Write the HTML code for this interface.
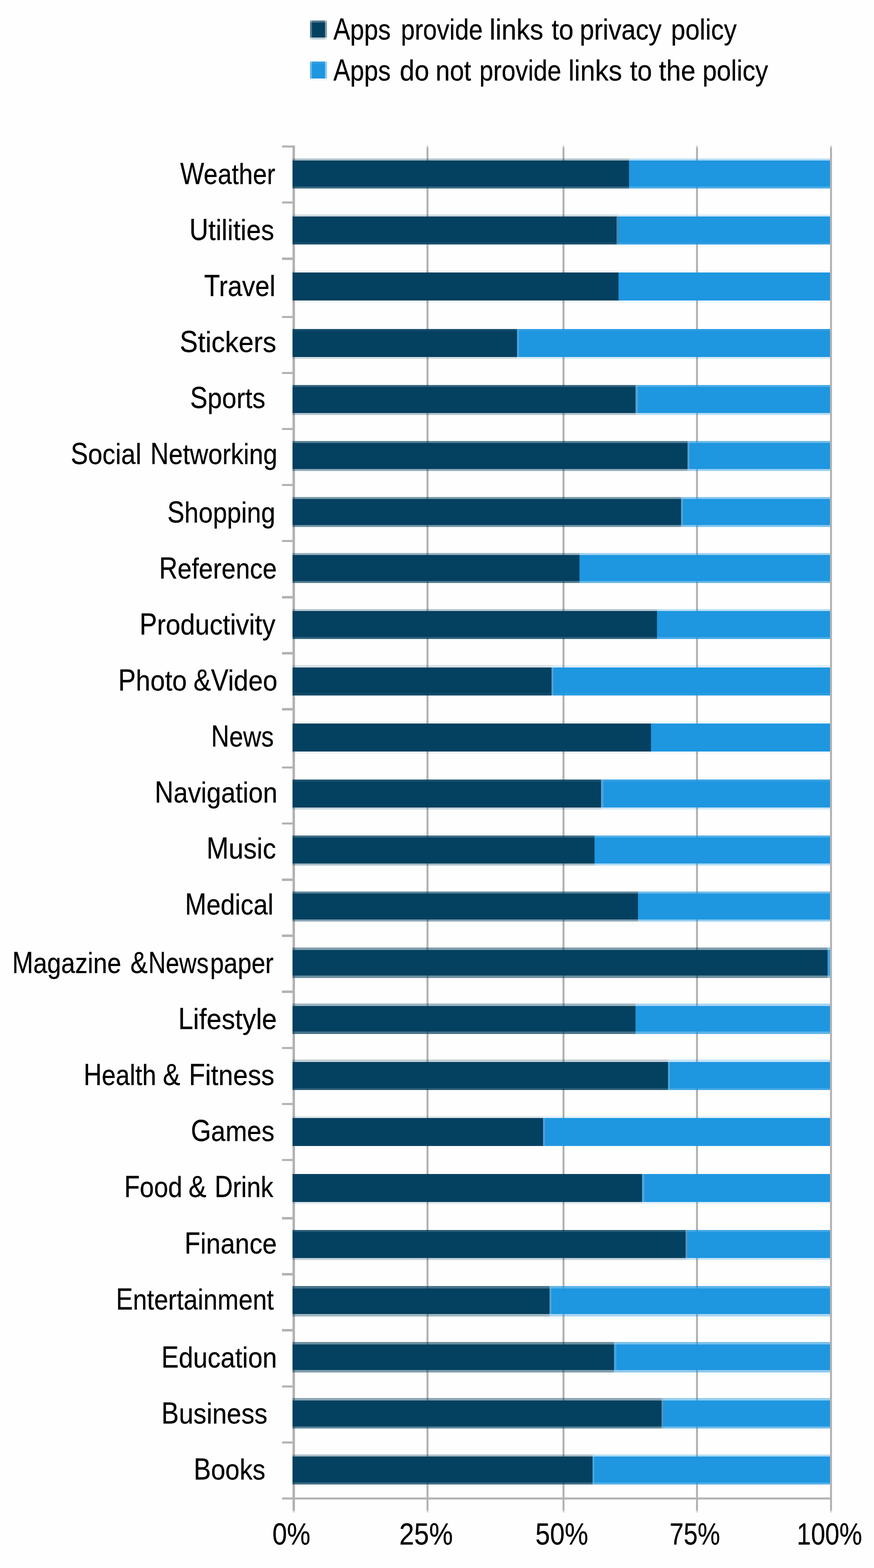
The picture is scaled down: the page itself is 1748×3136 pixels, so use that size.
<!DOCTYPE html>
<html lang="en">
<head>
<meta charset="utf-8">
<title>Apps providing links to privacy policy, by category</title>
<style>
html,body{margin:0;padding:0;background:#fefefe;}
body{width:1748px;height:3136px;overflow:hidden;}
svg{display:block;}
text{font-family:"Liberation Sans",Arial,Helvetica,sans-serif;font-size:60.5px;fill:#000000;stroke:#000000;stroke-width:0.3px;white-space:pre;}
tspan.c{font-size:61.5px;}
tspan.l{font-size:57.0px;}
</style>
</head>
<body>
<svg width="1748" height="3136" viewBox="0 0 1748 3136">
<rect x="0" y="0" width="1748" height="3136" fill="#fefefe"/>
<g id="grid">
<rect x="585" y="291" width="5" height="2730" fill="#b3b3b3"/>
<rect x="585" y="3021" width="5" height="4" fill="#d9d9d9"/>
<rect x="853" y="291" width="4" height="4" fill="#d9d9d9"/>
<rect x="853" y="295" width="4" height="2726" fill="#b3b3b3"/>
<rect x="853" y="3021" width="4" height="4" fill="#d9d9d9"/>
<rect x="1125" y="291" width="4" height="4" fill="#d9d9d9"/>
<rect x="1125" y="295" width="4" height="2726" fill="#b3b3b3"/>
<rect x="1125" y="3021" width="4" height="4" fill="#d9d9d9"/>
<rect x="1392" y="291" width="4" height="4" fill="#d9d9d9"/>
<rect x="1392" y="295" width="4" height="2726" fill="#b3b3b3"/>
<rect x="1392" y="3021" width="4" height="4" fill="#d9d9d9"/>
<rect x="1660" y="291" width="4" height="4" fill="#d9d9d9"/>
<rect x="1660" y="295" width="4" height="2726" fill="#b3b3b3"/>
<rect x="1660" y="3021" width="4" height="4" fill="#d9d9d9"/>
<rect x="564" y="2995" width="1100" height="4" fill="#b3b3b3"/>
<rect x="564" y="291" width="21" height="4" fill="#b3b3b3"/>
<rect x="564" y="403" width="21" height="4" fill="#b3b3b3"/>
<rect x="564" y="515" width="21" height="5" fill="#b3b3b3"/>
<rect x="564" y="632" width="21" height="4" fill="#b3b3b3"/>
<rect x="564" y="744" width="21" height="4" fill="#b3b3b3"/>
<rect x="564" y="856" width="21" height="4" fill="#b3b3b3"/>
<rect x="564" y="968" width="21" height="4" fill="#b3b3b3"/>
<rect x="564" y="1080" width="21" height="4" fill="#b3b3b3"/>
<rect x="564" y="1192" width="21" height="5" fill="#b3b3b3"/>
<rect x="564" y="1304" width="21" height="5" fill="#b3b3b3"/>
<rect x="564" y="1416" width="21" height="5" fill="#b3b3b3"/>
<rect x="564" y="1533" width="21" height="4" fill="#b3b3b3"/>
<rect x="564" y="1645" width="21" height="4" fill="#b3b3b3"/>
<rect x="564" y="1757" width="21" height="5" fill="#b3b3b3"/>
<rect x="564" y="1869" width="21" height="5" fill="#b3b3b3"/>
<rect x="564" y="1981" width="21" height="5" fill="#b3b3b3"/>
<rect x="564" y="2094" width="21" height="4" fill="#b3b3b3"/>
<rect x="564" y="2206" width="21" height="4" fill="#b3b3b3"/>
<rect x="564" y="2318" width="21" height="4" fill="#b3b3b3"/>
<rect x="564" y="2434" width="21" height="5" fill="#b3b3b3"/>
<rect x="564" y="2546" width="21" height="5" fill="#b3b3b3"/>
<rect x="564" y="2658" width="21" height="5" fill="#b3b3b3"/>
<rect x="564" y="2771" width="21" height="4" fill="#b3b3b3"/>
<rect x="564" y="2883" width="21" height="4" fill="#b3b3b3"/>
</g>
<g id="bars">
<rect x="585" y="317" width="673" height="4" fill="#04405f" fill-opacity="0.320"/>
<rect x="585" y="321" width="673" height="52" fill="#04405f"/>
<rect x="585" y="373" width="673" height="4" fill="#04405f" fill-opacity="0.780"/>
<rect x="1258" y="317" width="402" height="4" fill="#1e96e0" fill-opacity="0.320"/>
<rect x="1258" y="321" width="402" height="52" fill="#1e96e0"/>
<rect x="1258" y="373" width="402" height="4" fill="#1e96e0" fill-opacity="0.780"/>
<rect x="585" y="429" width="648" height="4" fill="#04405f" fill-opacity="0.190"/>
<rect x="585" y="433" width="648" height="52" fill="#04405f"/>
<rect x="585" y="485" width="648" height="4" fill="#04405f" fill-opacity="0.910"/>
<rect x="1233" y="429" width="4" height="4" fill="#04405f" fill-opacity="0.128"/>
<rect x="1233" y="433" width="4" height="52" fill="#04405f" fill-opacity="0.671"/>
<rect x="1233" y="485" width="4" height="4" fill="#04405f" fill-opacity="0.611"/>
<rect x="1233" y="429" width="4" height="4" fill="#1e96e0" fill-opacity="0.063"/>
<rect x="1233" y="433" width="4" height="52" fill="#1e96e0" fill-opacity="0.329"/>
<rect x="1233" y="485" width="4" height="4" fill="#1e96e0" fill-opacity="0.299"/>
<rect x="1237" y="429" width="423" height="4" fill="#1e96e0" fill-opacity="0.190"/>
<rect x="1237" y="433" width="423" height="52" fill="#1e96e0"/>
<rect x="1237" y="485" width="423" height="4" fill="#1e96e0" fill-opacity="0.910"/>
<rect x="585" y="541" width="652" height="4" fill="#04405f" fill-opacity="0.061"/>
<rect x="585" y="545" width="652" height="56" fill="#04405f"/>
<rect x="585" y="601" width="652" height="5" fill="#04405f" fill-opacity="0.039"/>
<rect x="1237" y="541" width="423" height="4" fill="#1e96e0" fill-opacity="0.061"/>
<rect x="1237" y="545" width="423" height="56" fill="#1e96e0"/>
<rect x="1237" y="601" width="423" height="5" fill="#1e96e0" fill-opacity="0.039"/>
<rect x="585" y="658" width="449" height="4" fill="#04405f" fill-opacity="0.931"/>
<rect x="585" y="662" width="449" height="52" fill="#04405f"/>
<rect x="585" y="714" width="449" height="4" fill="#04405f" fill-opacity="0.169"/>
<rect x="1034" y="658" width="4" height="4" fill="#04405f" fill-opacity="0.221"/>
<rect x="1034" y="662" width="4" height="52" fill="#04405f" fill-opacity="0.238"/>
<rect x="1034" y="714" width="4" height="4" fill="#04405f" fill-opacity="0.040"/>
<rect x="1034" y="658" width="4" height="4" fill="#1e96e0" fill-opacity="0.710"/>
<rect x="1034" y="662" width="4" height="52" fill="#1e96e0" fill-opacity="0.762"/>
<rect x="1034" y="714" width="4" height="4" fill="#1e96e0" fill-opacity="0.129"/>
<rect x="1038" y="658" width="622" height="4" fill="#1e96e0" fill-opacity="0.931"/>
<rect x="1038" y="662" width="622" height="52" fill="#1e96e0"/>
<rect x="1038" y="714" width="622" height="4" fill="#1e96e0" fill-opacity="0.169"/>
<rect x="585" y="770" width="686" height="4" fill="#04405f" fill-opacity="0.802"/>
<rect x="585" y="774" width="686" height="52" fill="#04405f"/>
<rect x="585" y="826" width="686" height="4" fill="#04405f" fill-opacity="0.298"/>
<rect x="1271" y="770" width="5" height="4" fill="#04405f" fill-opacity="0.311"/>
<rect x="1271" y="774" width="5" height="52" fill="#04405f" fill-opacity="0.388"/>
<rect x="1271" y="826" width="5" height="4" fill="#04405f" fill-opacity="0.116"/>
<rect x="1271" y="770" width="5" height="4" fill="#1e96e0" fill-opacity="0.491"/>
<rect x="1271" y="774" width="5" height="52" fill="#1e96e0" fill-opacity="0.612"/>
<rect x="1271" y="826" width="5" height="4" fill="#1e96e0" fill-opacity="0.183"/>
<rect x="1276" y="770" width="384" height="4" fill="#1e96e0" fill-opacity="0.802"/>
<rect x="1276" y="774" width="384" height="52" fill="#1e96e0"/>
<rect x="1276" y="826" width="384" height="4" fill="#1e96e0" fill-opacity="0.298"/>
<rect x="585" y="882" width="790" height="4" fill="#04405f" fill-opacity="0.672"/>
<rect x="585" y="886" width="790" height="52" fill="#04405f"/>
<rect x="585" y="938" width="790" height="4" fill="#04405f" fill-opacity="0.428"/>
<rect x="1375" y="882" width="4" height="4" fill="#04405f" fill-opacity="0.225"/>
<rect x="1375" y="886" width="4" height="52" fill="#04405f" fill-opacity="0.335"/>
<rect x="1375" y="938" width="4" height="4" fill="#04405f" fill-opacity="0.143"/>
<rect x="1375" y="882" width="4" height="4" fill="#1e96e0" fill-opacity="0.447"/>
<rect x="1375" y="886" width="4" height="52" fill="#1e96e0" fill-opacity="0.665"/>
<rect x="1375" y="938" width="4" height="4" fill="#1e96e0" fill-opacity="0.285"/>
<rect x="1379" y="882" width="281" height="4" fill="#1e96e0" fill-opacity="0.672"/>
<rect x="1379" y="886" width="281" height="52" fill="#1e96e0"/>
<rect x="1379" y="938" width="281" height="4" fill="#1e96e0" fill-opacity="0.428"/>
<rect x="585" y="994" width="777" height="4" fill="#04405f" fill-opacity="0.542"/>
<rect x="585" y="998" width="777" height="52" fill="#04405f"/>
<rect x="585" y="1050" width="777" height="4" fill="#04405f" fill-opacity="0.558"/>
<rect x="1362" y="994" width="4" height="4" fill="#04405f" fill-opacity="0.224"/>
<rect x="1362" y="998" width="4" height="52" fill="#04405f" fill-opacity="0.414"/>
<rect x="1362" y="1050" width="4" height="4" fill="#04405f" fill-opacity="0.231"/>
<rect x="1362" y="994" width="4" height="4" fill="#1e96e0" fill-opacity="0.318"/>
<rect x="1362" y="998" width="4" height="52" fill="#1e96e0" fill-opacity="0.586"/>
<rect x="1362" y="1050" width="4" height="4" fill="#1e96e0" fill-opacity="0.327"/>
<rect x="1366" y="994" width="294" height="4" fill="#1e96e0" fill-opacity="0.542"/>
<rect x="1366" y="998" width="294" height="52" fill="#1e96e0"/>
<rect x="1366" y="1050" width="294" height="4" fill="#1e96e0" fill-opacity="0.558"/>
<rect x="585" y="1106" width="574" height="4" fill="#04405f" fill-opacity="0.413"/>
<rect x="585" y="1110" width="574" height="52" fill="#04405f"/>
<rect x="585" y="1162" width="574" height="4" fill="#04405f" fill-opacity="0.687"/>
<rect x="1159" y="1106" width="501" height="4" fill="#1e96e0" fill-opacity="0.413"/>
<rect x="1159" y="1110" width="501" height="52" fill="#1e96e0"/>
<rect x="1159" y="1162" width="501" height="4" fill="#1e96e0" fill-opacity="0.687"/>
<rect x="585" y="1218" width="729" height="4" fill="#04405f" fill-opacity="0.283"/>
<rect x="585" y="1222" width="729" height="52" fill="#04405f"/>
<rect x="585" y="1274" width="729" height="4" fill="#04405f" fill-opacity="0.817"/>
<rect x="1314" y="1218" width="346" height="4" fill="#1e96e0" fill-opacity="0.283"/>
<rect x="1314" y="1222" width="346" height="52" fill="#1e96e0"/>
<rect x="1314" y="1274" width="346" height="4" fill="#1e96e0" fill-opacity="0.817"/>
<rect x="585" y="1330" width="518" height="5" fill="#04405f" fill-opacity="0.154"/>
<rect x="585" y="1335" width="518" height="51" fill="#04405f"/>
<rect x="585" y="1386" width="518" height="5" fill="#04405f" fill-opacity="0.946"/>
<rect x="1103" y="1330" width="4" height="5" fill="#04405f" fill-opacity="0.061"/>
<rect x="1103" y="1335" width="4" height="51" fill="#04405f" fill-opacity="0.396"/>
<rect x="1103" y="1386" width="4" height="5" fill="#04405f" fill-opacity="0.374"/>
<rect x="1103" y="1330" width="4" height="5" fill="#1e96e0" fill-opacity="0.093"/>
<rect x="1103" y="1335" width="4" height="51" fill="#1e96e0" fill-opacity="0.604"/>
<rect x="1103" y="1386" width="4" height="5" fill="#1e96e0" fill-opacity="0.572"/>
<rect x="1107" y="1330" width="553" height="5" fill="#1e96e0" fill-opacity="0.154"/>
<rect x="1107" y="1335" width="553" height="51" fill="#1e96e0"/>
<rect x="1107" y="1386" width="553" height="5" fill="#1e96e0" fill-opacity="0.946"/>
<rect x="585" y="1442" width="717" height="5" fill="#04405f" fill-opacity="0.024"/>
<rect x="585" y="1447" width="717" height="56" fill="#04405f"/>
<rect x="585" y="1503" width="717" height="4" fill="#04405f" fill-opacity="0.076"/>
<rect x="1302" y="1442" width="358" height="5" fill="#1e96e0" fill-opacity="0.024"/>
<rect x="1302" y="1447" width="358" height="56" fill="#1e96e0"/>
<rect x="1302" y="1503" width="358" height="4" fill="#1e96e0" fill-opacity="0.076"/>
<rect x="585" y="1559" width="617" height="4" fill="#04405f" fill-opacity="0.894"/>
<rect x="585" y="1563" width="617" height="52" fill="#04405f"/>
<rect x="585" y="1615" width="617" height="4" fill="#04405f" fill-opacity="0.206"/>
<rect x="1202" y="1559" width="5" height="4" fill="#04405f" fill-opacity="0.309"/>
<rect x="1202" y="1563" width="5" height="52" fill="#04405f" fill-opacity="0.346"/>
<rect x="1202" y="1615" width="5" height="4" fill="#04405f" fill-opacity="0.071"/>
<rect x="1202" y="1559" width="5" height="4" fill="#1e96e0" fill-opacity="0.585"/>
<rect x="1202" y="1563" width="5" height="52" fill="#1e96e0" fill-opacity="0.654"/>
<rect x="1202" y="1615" width="5" height="4" fill="#1e96e0" fill-opacity="0.135"/>
<rect x="1207" y="1559" width="453" height="4" fill="#1e96e0" fill-opacity="0.894"/>
<rect x="1207" y="1563" width="453" height="52" fill="#1e96e0"/>
<rect x="1207" y="1615" width="453" height="4" fill="#1e96e0" fill-opacity="0.206"/>
<rect x="585" y="1671" width="604" height="4" fill="#04405f" fill-opacity="0.765"/>
<rect x="585" y="1675" width="604" height="52" fill="#04405f"/>
<rect x="585" y="1727" width="604" height="4" fill="#04405f" fill-opacity="0.335"/>
<rect x="1189" y="1671" width="471" height="4" fill="#1e96e0" fill-opacity="0.765"/>
<rect x="1189" y="1675" width="471" height="52" fill="#1e96e0"/>
<rect x="1189" y="1727" width="471" height="4" fill="#1e96e0" fill-opacity="0.335"/>
<rect x="585" y="1783" width="691" height="4" fill="#04405f" fill-opacity="0.635"/>
<rect x="585" y="1787" width="691" height="52" fill="#04405f"/>
<rect x="585" y="1839" width="691" height="4" fill="#04405f" fill-opacity="0.465"/>
<rect x="1276" y="1783" width="384" height="4" fill="#1e96e0" fill-opacity="0.635"/>
<rect x="1276" y="1787" width="384" height="52" fill="#1e96e0"/>
<rect x="1276" y="1839" width="384" height="4" fill="#1e96e0" fill-opacity="0.465"/>
<rect x="585" y="1895" width="1070" height="5" fill="#04405f" fill-opacity="0.506"/>
<rect x="585" y="1900" width="1070" height="51" fill="#04405f"/>
<rect x="585" y="1951" width="1070" height="5" fill="#04405f" fill-opacity="0.594"/>
<rect x="1655" y="1895" width="5" height="5" fill="#04405f" fill-opacity="0.053"/>
<rect x="1655" y="1900" width="5" height="51" fill="#04405f" fill-opacity="0.105"/>
<rect x="1655" y="1951" width="5" height="5" fill="#04405f" fill-opacity="0.062"/>
<rect x="1655" y="1895" width="5" height="5" fill="#1e96e0" fill-opacity="0.453"/>
<rect x="1655" y="1900" width="5" height="51" fill="#1e96e0" fill-opacity="0.895"/>
<rect x="1655" y="1951" width="5" height="5" fill="#1e96e0" fill-opacity="0.532"/>
<rect x="1660" y="1895" width="0" height="5" fill="#1e96e0" fill-opacity="0.506"/>
<rect x="1660" y="1900" width="0" height="51" fill="#1e96e0"/>
<rect x="1660" y="1951" width="0" height="5" fill="#1e96e0" fill-opacity="0.594"/>
<rect x="585" y="2007" width="686" height="5" fill="#04405f" fill-opacity="0.376"/>
<rect x="585" y="2012" width="686" height="51" fill="#04405f"/>
<rect x="585" y="2063" width="686" height="5" fill="#04405f" fill-opacity="0.724"/>
<rect x="1271" y="2007" width="389" height="5" fill="#1e96e0" fill-opacity="0.376"/>
<rect x="1271" y="2012" width="389" height="51" fill="#1e96e0"/>
<rect x="1271" y="2063" width="389" height="5" fill="#1e96e0" fill-opacity="0.724"/>
<rect x="585" y="2119" width="751" height="5" fill="#04405f" fill-opacity="0.246"/>
<rect x="585" y="2124" width="751" height="52" fill="#04405f"/>
<rect x="585" y="2176" width="751" height="4" fill="#04405f" fill-opacity="0.854"/>
<rect x="1336" y="2119" width="4" height="5" fill="#04405f" fill-opacity="0.072"/>
<rect x="1336" y="2124" width="4" height="52" fill="#04405f" fill-opacity="0.294"/>
<rect x="1336" y="2176" width="4" height="4" fill="#04405f" fill-opacity="0.251"/>
<rect x="1336" y="2119" width="4" height="5" fill="#1e96e0" fill-opacity="0.174"/>
<rect x="1336" y="2124" width="4" height="52" fill="#1e96e0" fill-opacity="0.706"/>
<rect x="1336" y="2176" width="4" height="4" fill="#1e96e0" fill-opacity="0.603"/>
<rect x="1340" y="2119" width="320" height="5" fill="#1e96e0" fill-opacity="0.246"/>
<rect x="1340" y="2124" width="320" height="52" fill="#1e96e0"/>
<rect x="1340" y="2176" width="320" height="4" fill="#1e96e0" fill-opacity="0.854"/>
<rect x="585" y="2232" width="501" height="4" fill="#04405f" fill-opacity="0.117"/>
<rect x="585" y="2236" width="501" height="52" fill="#04405f"/>
<rect x="585" y="2288" width="501" height="4" fill="#04405f" fill-opacity="0.983"/>
<rect x="1086" y="2232" width="4" height="4" fill="#04405f" fill-opacity="0.050"/>
<rect x="1086" y="2236" width="4" height="52" fill="#04405f" fill-opacity="0.431"/>
<rect x="1086" y="2288" width="4" height="4" fill="#04405f" fill-opacity="0.424"/>
<rect x="1086" y="2232" width="4" height="4" fill="#1e96e0" fill-opacity="0.066"/>
<rect x="1086" y="2236" width="4" height="52" fill="#1e96e0" fill-opacity="0.569"/>
<rect x="1086" y="2288" width="4" height="4" fill="#1e96e0" fill-opacity="0.559"/>
<rect x="1090" y="2232" width="570" height="4" fill="#1e96e0" fill-opacity="0.117"/>
<rect x="1090" y="2236" width="570" height="52" fill="#1e96e0"/>
<rect x="1090" y="2288" width="570" height="4" fill="#1e96e0" fill-opacity="0.983"/>
<rect x="585" y="2348" width="699" height="4" fill="#04405f" fill-opacity="0.987"/>
<rect x="585" y="2352" width="699" height="52" fill="#04405f"/>
<rect x="585" y="2404" width="699" height="4" fill="#04405f" fill-opacity="0.113"/>
<rect x="1284" y="2348" width="5" height="4" fill="#04405f" fill-opacity="0.328"/>
<rect x="1284" y="2352" width="5" height="52" fill="#04405f" fill-opacity="0.332"/>
<rect x="1284" y="2404" width="5" height="4" fill="#04405f" fill-opacity="0.037"/>
<rect x="1284" y="2348" width="5" height="4" fill="#1e96e0" fill-opacity="0.660"/>
<rect x="1284" y="2352" width="5" height="52" fill="#1e96e0" fill-opacity="0.668"/>
<rect x="1284" y="2404" width="5" height="4" fill="#1e96e0" fill-opacity="0.075"/>
<rect x="1289" y="2348" width="371" height="4" fill="#1e96e0" fill-opacity="0.987"/>
<rect x="1289" y="2352" width="371" height="52" fill="#1e96e0"/>
<rect x="1289" y="2404" width="371" height="4" fill="#1e96e0" fill-opacity="0.113"/>
<rect x="585" y="2460" width="786" height="4" fill="#04405f" fill-opacity="0.858"/>
<rect x="585" y="2464" width="786" height="52" fill="#04405f"/>
<rect x="585" y="2516" width="786" height="4" fill="#04405f" fill-opacity="0.242"/>
<rect x="1371" y="2460" width="4" height="4" fill="#04405f" fill-opacity="0.469"/>
<rect x="1371" y="2464" width="4" height="52" fill="#04405f" fill-opacity="0.546"/>
<rect x="1371" y="2516" width="4" height="4" fill="#04405f" fill-opacity="0.132"/>
<rect x="1371" y="2460" width="4" height="4" fill="#1e96e0" fill-opacity="0.389"/>
<rect x="1371" y="2464" width="4" height="52" fill="#1e96e0" fill-opacity="0.454"/>
<rect x="1371" y="2516" width="4" height="4" fill="#1e96e0" fill-opacity="0.110"/>
<rect x="1375" y="2460" width="285" height="4" fill="#1e96e0" fill-opacity="0.858"/>
<rect x="1375" y="2464" width="285" height="52" fill="#1e96e0"/>
<rect x="1375" y="2516" width="285" height="4" fill="#1e96e0" fill-opacity="0.242"/>
<rect x="585" y="2572" width="514" height="5" fill="#04405f" fill-opacity="0.728"/>
<rect x="585" y="2577" width="514" height="51" fill="#04405f"/>
<rect x="585" y="2628" width="514" height="5" fill="#04405f" fill-opacity="0.372"/>
<rect x="1099" y="2572" width="4" height="5" fill="#04405f" fill-opacity="0.273"/>
<rect x="1099" y="2577" width="4" height="51" fill="#04405f" fill-opacity="0.376"/>
<rect x="1099" y="2628" width="4" height="5" fill="#04405f" fill-opacity="0.140"/>
<rect x="1099" y="2572" width="4" height="5" fill="#1e96e0" fill-opacity="0.455"/>
<rect x="1099" y="2577" width="4" height="51" fill="#1e96e0" fill-opacity="0.624"/>
<rect x="1099" y="2628" width="4" height="5" fill="#1e96e0" fill-opacity="0.232"/>
<rect x="1103" y="2572" width="557" height="5" fill="#1e96e0" fill-opacity="0.728"/>
<rect x="1103" y="2577" width="557" height="51" fill="#1e96e0"/>
<rect x="1103" y="2628" width="557" height="5" fill="#1e96e0" fill-opacity="0.372"/>
<rect x="585" y="2684" width="643" height="5" fill="#04405f" fill-opacity="0.598"/>
<rect x="585" y="2689" width="643" height="51" fill="#04405f"/>
<rect x="585" y="2740" width="643" height="5" fill="#04405f" fill-opacity="0.502"/>
<rect x="1228" y="2684" width="5" height="5" fill="#04405f" fill-opacity="0.126"/>
<rect x="1228" y="2689" width="5" height="51" fill="#04405f" fill-opacity="0.211"/>
<rect x="1228" y="2740" width="5" height="5" fill="#04405f" fill-opacity="0.106"/>
<rect x="1228" y="2684" width="5" height="5" fill="#1e96e0" fill-opacity="0.472"/>
<rect x="1228" y="2689" width="5" height="51" fill="#1e96e0" fill-opacity="0.789"/>
<rect x="1228" y="2740" width="5" height="5" fill="#1e96e0" fill-opacity="0.396"/>
<rect x="1233" y="2684" width="427" height="5" fill="#1e96e0" fill-opacity="0.598"/>
<rect x="1233" y="2689" width="427" height="51" fill="#1e96e0"/>
<rect x="1233" y="2740" width="427" height="5" fill="#1e96e0" fill-opacity="0.502"/>
<rect x="585" y="2796" width="738" height="5" fill="#04405f" fill-opacity="0.469"/>
<rect x="585" y="2801" width="738" height="52" fill="#04405f"/>
<rect x="585" y="2853" width="738" height="4" fill="#04405f" fill-opacity="0.631"/>
<rect x="1323" y="2796" width="4" height="5" fill="#04405f" fill-opacity="0.273"/>
<rect x="1323" y="2801" width="4" height="52" fill="#04405f" fill-opacity="0.581"/>
<rect x="1323" y="2853" width="4" height="4" fill="#04405f" fill-opacity="0.367"/>
<rect x="1323" y="2796" width="4" height="5" fill="#1e96e0" fill-opacity="0.196"/>
<rect x="1323" y="2801" width="4" height="52" fill="#1e96e0" fill-opacity="0.419"/>
<rect x="1323" y="2853" width="4" height="4" fill="#1e96e0" fill-opacity="0.264"/>
<rect x="1327" y="2796" width="333" height="5" fill="#1e96e0" fill-opacity="0.469"/>
<rect x="1327" y="2801" width="333" height="52" fill="#1e96e0"/>
<rect x="1327" y="2853" width="333" height="4" fill="#1e96e0" fill-opacity="0.631"/>
<rect x="585" y="2909" width="600" height="4" fill="#04405f" fill-opacity="0.339"/>
<rect x="585" y="2913" width="600" height="52" fill="#04405f"/>
<rect x="585" y="2965" width="600" height="4" fill="#04405f" fill-opacity="0.761"/>
<rect x="1185" y="2909" width="4" height="4" fill="#04405f" fill-opacity="0.090"/>
<rect x="1185" y="2913" width="4" height="52" fill="#04405f" fill-opacity="0.266"/>
<rect x="1185" y="2965" width="4" height="4" fill="#04405f" fill-opacity="0.202"/>
<rect x="1185" y="2909" width="4" height="4" fill="#1e96e0" fill-opacity="0.249"/>
<rect x="1185" y="2913" width="4" height="52" fill="#1e96e0" fill-opacity="0.734"/>
<rect x="1185" y="2965" width="4" height="4" fill="#1e96e0" fill-opacity="0.559"/>
<rect x="1189" y="2909" width="471" height="4" fill="#1e96e0" fill-opacity="0.339"/>
<rect x="1189" y="2913" width="471" height="52" fill="#1e96e0"/>
<rect x="1189" y="2965" width="471" height="4" fill="#1e96e0" fill-opacity="0.761"/>
</g>
<g id="legend">
<rect x="624" y="45" width="26" height="30" fill="#04405f"/>
<rect x="620" y="45" width="4" height="30" fill="#04405f" fill-opacity="0.700"/>
<rect x="650" y="45" width="4" height="30" fill="#04405f" fill-opacity="0.500"/>
<rect x="624" y="41" width="26" height="4" fill="#04405f" fill-opacity="0.700"/>
<rect x="620" y="41" width="4" height="4" fill="#04405f" fill-opacity="0.490"/>
<rect x="650" y="41" width="4" height="4" fill="#04405f" fill-opacity="0.350"/>
<rect x="624" y="75" width="26" height="4" fill="#04405f" fill-opacity="0.250"/>
<rect x="620" y="75" width="4" height="4" fill="#04405f" fill-opacity="0.175"/>
<rect x="650" y="75" width="4" height="4" fill="#04405f" fill-opacity="0.125"/>
<rect x="624" y="127" width="26" height="30" fill="#1e96e0"/>
<rect x="620" y="127" width="4" height="30" fill="#1e96e0" fill-opacity="0.700"/>
<rect x="650" y="127" width="4" height="30" fill="#1e96e0" fill-opacity="0.500"/>
<rect x="624" y="123" width="26" height="4" fill="#1e96e0" fill-opacity="0.900"/>
<rect x="620" y="123" width="4" height="4" fill="#1e96e0" fill-opacity="0.630"/>
<rect x="650" y="123" width="4" height="4" fill="#1e96e0" fill-opacity="0.450"/>
<rect x="624" y="157" width="26" height="4" fill="#1e96e0" fill-opacity="0.060"/>
<rect x="620" y="157" width="4" height="4" fill="#1e96e0" fill-opacity="0.042"/>
<rect x="650" y="157" width="4" height="4" fill="#1e96e0" fill-opacity="0.030"/>
</g>
<g id="text">
<text y="367.80"><tspan x="360.48" textLength="47.72" lengthAdjust="spacingAndGlyphs" class="c">W</tspan><tspan x="407.28" textLength="143.36" lengthAdjust="spacingAndGlyphs" class="l">eather</tspan></text>
<text y="479.80"><tspan x="378.84" textLength="37.97" lengthAdjust="spacingAndGlyphs" class="c">U</tspan><tspan x="416.82" textLength="131.48" lengthAdjust="spacingAndGlyphs" class="l">tilities</tspan></text>
<text y="591.80"><tspan x="408.23" textLength="31.76" lengthAdjust="spacingAndGlyphs" class="c">T</tspan><tspan x="438.07" textLength="112.71" lengthAdjust="spacingAndGlyphs" class="l">ravel</tspan></text>
<text y="703.80"><tspan x="359.54" textLength="36.20" lengthAdjust="spacingAndGlyphs" class="c">S</tspan><tspan x="395.74" textLength="156.82" lengthAdjust="spacingAndGlyphs" class="l">tickers</tspan></text>
<text y="815.80"><tspan x="380.34" textLength="34.72" lengthAdjust="spacingAndGlyphs" class="c">S</tspan><tspan x="415.06" textLength="115.72" lengthAdjust="spacingAndGlyphs" class="l">ports</tspan></text>
<text y="927.80"><tspan x="141.45" textLength="34.58" lengthAdjust="spacingAndGlyphs" class="c">S</tspan><tspan x="176.03" textLength="106.64" lengthAdjust="spacingAndGlyphs" class="l">ocial</tspan> <tspan x="300.84" textLength="36.65" lengthAdjust="spacingAndGlyphs" class="c">N</tspan><tspan x="337.48" textLength="217.19" lengthAdjust="spacingAndGlyphs" class="l">etworking</tspan></text>
<text y="1044.80"><tspan x="334.78" textLength="34.06" lengthAdjust="spacingAndGlyphs" class="c">S</tspan><tspan x="368.84" textLength="181.75" lengthAdjust="spacingAndGlyphs" class="l">hopping</tspan></text>
<text y="1156.80"><tspan x="318.21" textLength="36.85" lengthAdjust="spacingAndGlyphs" class="c">R</tspan><tspan x="355.07" textLength="198.60" lengthAdjust="spacingAndGlyphs" class="l">eference</tspan></text>
<text y="1268.80"><tspan x="278.99" textLength="35.06" lengthAdjust="spacingAndGlyphs" class="c">P</tspan><tspan x="314.05" textLength="236.65" lengthAdjust="spacingAndGlyphs" class="l">roductivity</tspan></text>
<text y="1380.80"><tspan x="236.49" textLength="35.02" lengthAdjust="spacingAndGlyphs" class="c">P</tspan><tspan x="271.51" textLength="102.19" lengthAdjust="spacingAndGlyphs" class="l">hoto</tspan> <tspan x="387.06" textLength="69.82" lengthAdjust="spacingAndGlyphs" class="c">&amp;V</tspan><tspan x="455.94" textLength="98.96" lengthAdjust="spacingAndGlyphs" class="l">ideo</tspan></text>
<text y="1492.80"><tspan x="422.30" textLength="36.13" lengthAdjust="spacingAndGlyphs" class="c">N</tspan><tspan x="458.43" textLength="88.98" lengthAdjust="spacingAndGlyphs" class="l">ews</tspan></text>
<text y="1604.80"><tspan x="309.54" textLength="37.48" lengthAdjust="spacingAndGlyphs" class="c">N</tspan><tspan x="347.02" textLength="207.75" lengthAdjust="spacingAndGlyphs" class="l">avigation</tspan></text>
<text y="1716.80"><tspan x="413.03" textLength="44.33" lengthAdjust="spacingAndGlyphs" class="c">M</tspan><tspan x="457.37" textLength="94.64" lengthAdjust="spacingAndGlyphs" class="l">usic</tspan></text>
<text y="1828.80"><tspan x="369.89" textLength="42.80" lengthAdjust="spacingAndGlyphs" class="c">M</tspan><tspan x="412.69" textLength="134.25" lengthAdjust="spacingAndGlyphs" class="l">edical</tspan></text>
<text y="1945.80"><tspan x="24.58" textLength="41.83" lengthAdjust="spacingAndGlyphs" class="c">M</tspan><tspan x="66.41" textLength="175.92" lengthAdjust="spacingAndGlyphs" class="l">agazine</tspan> <tspan x="260.87" textLength="34.64" lengthAdjust="spacingAndGlyphs" class="c">&amp;</tspan><tspan x="296.64" textLength="34.86" lengthAdjust="spacingAndGlyphs" class="c">N</tspan><tspan x="331.50" textLength="85.84" lengthAdjust="spacingAndGlyphs" class="l">ews</tspan><tspan x="420.20" textLength="126.92" lengthAdjust="spacingAndGlyphs" class="l">paper</tspan></text>
<text y="2057.80"><tspan x="356.39" textLength="29.93" lengthAdjust="spacingAndGlyphs" class="c">L</tspan><tspan x="386.31" textLength="167.48" lengthAdjust="spacingAndGlyphs" class="l">ifestyle</tspan></text>
<text y="2169.80"><tspan x="167.28" textLength="36.27" lengthAdjust="spacingAndGlyphs" class="c">H</tspan><tspan x="203.55" textLength="108.91" lengthAdjust="spacingAndGlyphs" class="l">ealth</tspan> <tspan x="325.76" textLength="34.85" lengthAdjust="spacingAndGlyphs" class="c">&amp;</tspan> <tspan x="377.85" textLength="32.36" lengthAdjust="spacingAndGlyphs" class="c">F</tspan><tspan x="410.22" textLength="138.40" lengthAdjust="spacingAndGlyphs" class="l">itness</tspan></text>
<text y="2281.80"><tspan x="381.69" textLength="40.35" lengthAdjust="spacingAndGlyphs" class="c">G</tspan><tspan x="422.04" textLength="126.84" lengthAdjust="spacingAndGlyphs" class="l">ames</tspan></text>
<text y="2393.80"><tspan x="248.42" textLength="31.13" lengthAdjust="spacingAndGlyphs" class="c">F</tspan><tspan x="279.55" textLength="85.03" lengthAdjust="spacingAndGlyphs" class="l">ood</tspan> <tspan x="376.91" textLength="35.83" lengthAdjust="spacingAndGlyphs" class="c">&amp;</tspan> <tspan x="429.17" textLength="36.35" lengthAdjust="spacingAndGlyphs" class="c">D</tspan><tspan x="465.52" textLength="81.11" lengthAdjust="spacingAndGlyphs" class="l">rink</tspan></text>
<text y="2506.80"><tspan x="369.04" textLength="31.71" lengthAdjust="spacingAndGlyphs" class="c">F</tspan><tspan x="400.75" textLength="152.96" lengthAdjust="spacingAndGlyphs" class="l">inance</tspan></text>
<text y="2618.80"><tspan x="232.04" textLength="33.82" lengthAdjust="spacingAndGlyphs" class="c">E</tspan><tspan x="265.86" textLength="281.81" lengthAdjust="spacingAndGlyphs" class="l">ntertainment</tspan></text>
<text y="2734.80"><tspan x="322.74" textLength="34.68" lengthAdjust="spacingAndGlyphs" class="c">E</tspan><tspan x="357.41" textLength="196.56" lengthAdjust="spacingAndGlyphs" class="l">ducation</tspan></text>
<text y="2846.80"><tspan x="322.81" textLength="34.88" lengthAdjust="spacingAndGlyphs" class="c">B</tspan><tspan x="357.69" textLength="177.30" lengthAdjust="spacingAndGlyphs" class="l">usiness</tspan></text>
<text y="2958.80"><tspan x="387.57" textLength="34.36" lengthAdjust="spacingAndGlyphs" class="c">B</tspan><tspan x="421.94" textLength="108.82" lengthAdjust="spacingAndGlyphs" class="l">ooks</tspan></text>
<text y="3089.00"><tspan x="544.65" textLength="76.03" lengthAdjust="spacingAndGlyphs" class="c">0%</tspan></text>
<text y="3089.00"><tspan x="798.61" textLength="107.10" lengthAdjust="spacingAndGlyphs" class="c">25%</tspan></text>
<text y="3089.00"><tspan x="1070.79" textLength="105.59" lengthAdjust="spacingAndGlyphs" class="c">50%</tspan></text>
<text y="3089.00"><tspan x="1339.21" textLength="100.99" lengthAdjust="spacingAndGlyphs" class="c">75%</tspan></text>
<text y="3089.00"><tspan x="1593.51" textLength="130.71" lengthAdjust="spacingAndGlyphs" class="c">100%</tspan></text>
<text y="78.80"><tspan x="666.70" textLength="33.54" lengthAdjust="spacingAndGlyphs" class="c">A</tspan><tspan x="700.24" textLength="81.08" lengthAdjust="spacingAndGlyphs" class="l">pps</tspan> <tspan x="801.68" textLength="163.74" lengthAdjust="spacingAndGlyphs" class="l">provide</tspan> <tspan x="979.08" textLength="107.46" lengthAdjust="spacingAndGlyphs" class="l">links</tspan> <tspan x="1103.20" textLength="44.02" lengthAdjust="spacingAndGlyphs" class="l">to</tspan> <tspan x="1159.47" textLength="163.73" lengthAdjust="spacingAndGlyphs" class="l">privacy</tspan> <tspan x="1342.09" textLength="131.41" lengthAdjust="spacingAndGlyphs" class="l">policy</tspan></text>
<text y="161.00"><tspan x="666.70" textLength="33.54" lengthAdjust="spacingAndGlyphs" class="c">A</tspan><tspan x="700.24" textLength="81.08" lengthAdjust="spacingAndGlyphs" class="l">pps</tspan> <tspan x="799.58" textLength="58.84" lengthAdjust="spacingAndGlyphs" class="l">do</tspan> <tspan x="871.21" textLength="71.07" lengthAdjust="spacingAndGlyphs" class="l">not</tspan> <tspan x="958.78" textLength="163.74" lengthAdjust="spacingAndGlyphs" class="l">provide</tspan> <tspan x="1136.69" textLength="107.25" lengthAdjust="spacingAndGlyphs" class="l">links</tspan> <tspan x="1260.10" textLength="44.02" lengthAdjust="spacingAndGlyphs" class="l">to</tspan> <tspan x="1317.80" textLength="73.34" lengthAdjust="spacingAndGlyphs" class="l">the</tspan> <tspan x="1404.89" textLength="131.41" lengthAdjust="spacingAndGlyphs" class="l">policy</tspan></text>
</g>
</svg>
</body>
</html>
